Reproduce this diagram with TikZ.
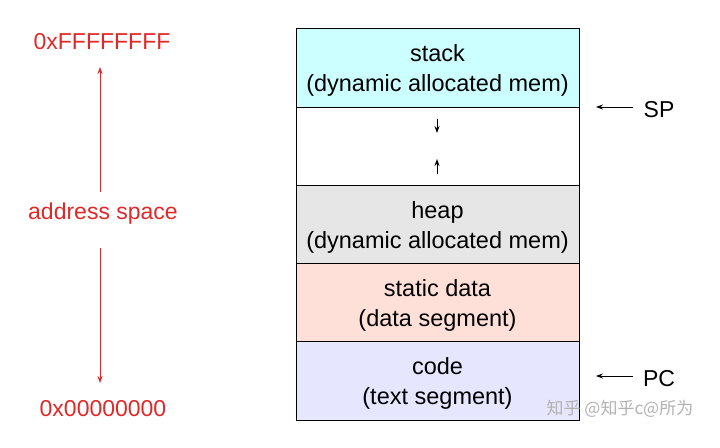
\documentclass[tikz,border=0pt]{standalone}
\usepackage{fontspec}
\setmainfont{Liberation Sans}
\newfontfamily\cjk{Noto Sans CJK SC}
\usetikzlibrary{arrows.meta}
\definecolor{addr}{RGB}{225,40,40}
\definecolor{cstack}{RGB}{204,255,255}
\definecolor{cheap}{RGB}{230,230,230}
\definecolor{cstatic}{RGB}{255,224,216}
\definecolor{ccode}{RGB}{230,230,255}
\begin{document}
\begin{tikzpicture}[x=1pt,y=-1pt,
  seg/.style={draw=black,line width=0.8pt,minimum width=283pt,minimum height=78.5pt,inner sep=0pt,align=center,font=\fontsize{23.5}{30}\selectfont},
  txt/.style={align=center,font=\fontsize{23.5}{30}\selectfont},
  red/.style={text=addr,font=\fontsize{23}{26}\selectfont},
  rarr/.style={draw=addr,line width=1pt,-{Stealth[length=7pt,width=5pt]}},
  barr/.style={draw=black,line width=1pt,-{Stealth[length=7pt,width=5pt]}},
  lbl/.style={font=\fontsize{23}{26}\selectfont}]
\useasboundingbox (0,0) rectangle (720,447);
\node[seg,fill=cstack] (stack) at (437.5,68) {};
\node[seg,fill=white] (free) at (437.5,146.5) {};
\node[seg,fill=cheap] (heap) at (437.5,225) {};
\node[seg,fill=cstatic] (static) at (437.5,303) {};
\node[seg,fill=ccode] (code) at (437.5,381) {};
\node[txt] at ([yshift=-2.5pt]stack.center) {stack\\(dynamic allocated mem)};
\node[txt] at ([yshift=-2.5pt]heap.center) {heap\\(dynamic allocated mem)};
\node[txt] at ([yshift=-2.5pt]static.center) {static data\\(data segment)};
\node[txt] at ([yshift=-2.5pt]code.center) {code\\(text segment)};
\coordinate (d1) at (437,119); \coordinate (d2) at (437,133);
\coordinate (u1) at (437,174); \coordinate (u2) at (437,159);
\draw[barr] (d1) -- (d2);
\draw[barr] (u1) -- (u2);
\node[lbl] (sp) at (659,110) {SP};
\node[lbl] (pc) at (659,379) {PC};
\coordinate (sps) at (633,107); \coordinate (spt) at (596,107);
\coordinate (pcs) at (633,376); \coordinate (pct) at (596,376);
\draw[barr] (sps) -- (spt);
\draw[barr] (pcs) -- (pct);
\node[red] (top) at (102,42) {0xFFFFFFFF};
\node[red] (as) at (103,214) {address space};
\node[red] (bot) at (103,409) {0x00000000};
\coordinate (a1) at (100,192); \coordinate (a2) at (100,67);
\coordinate (b1) at (100,248); \coordinate (b2) at (100,383);
\draw[rarr] (a1) -- (a2);
\draw[rarr] (b1) -- (b2);
\node[text=black!30,font=\cjk\fontsize{17}{20}\selectfont] (wm) at (620,409) {知乎 @知乎c@所为};
\end{tikzpicture}
\end{document}
